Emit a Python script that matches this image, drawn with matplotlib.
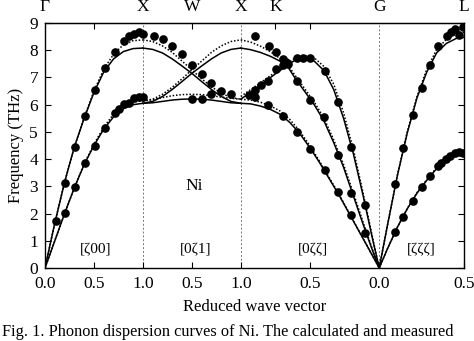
import numpy as np
import matplotlib
matplotlib.use("Agg")
import matplotlib.pyplot as plt

plt.rcParams['font.family'] = ['Liberation Serif', 'DejaVu Serif']
plt.rcParams['mathtext.fontset'] = 'stix'

# high-symmetry positions (reduced path length)
sym_labels = ["Γ", "X", "W", "X", "K", "G", "L"]
sym_pos = [0.0, 1.0, 1.5, 2.0, 2.0 + 0.25 * np.sqrt(2), 2.0 + np.sqrt(2), 2.0 + np.sqrt(2) + np.sqrt(3) / 2]
tick_pos = [0.0, 0.5, 1.0, 1.5, 2.0, 2.0 + 0.5 * np.sqrt(2), 2.0 + np.sqrt(2), 2.0 + np.sqrt(2) + np.sqrt(3) / 2]
tick_labels = ["0.0", "0.5", "1.0", "0.5", "1.0", "0.5", "0.0", "0.5"]
top_tick_pos = [0.5, 1.5, 2.0 + 0.25 * np.sqrt(2), 2.0 + 0.5 * np.sqrt(2)]
vline_pos = [1.0, 2.0, 2.0 + np.sqrt(2)]

# ---- calculated curves (solid / dotted) ----
# Gamma - X
gx_x = [0, .1, .2, .3, .4, .5, .6, .7, .8, .9, 1.0]
gx_up_solid = [0, 1.65, 3.15, 4.45, 5.5, 6.45, 7.2, 7.68, 7.95, 8.06, 8.08]
gx_up_dot = [0, 1.65, 3.15, 4.45, 5.52, 6.5, 7.3, 7.85, 8.2, 8.35, 8.38]
gx_lo_solid = [0, 1.0, 2.0, 2.95, 3.8, 4.5, 5.1, 5.55, 5.85, 6.0, 6.05]
gx_lo_dot = [0, 1.0, 2.0, 2.95, 3.82, 4.55, 5.17, 5.65, 5.95, 6.1, 6.14]
# X - W - X
xw_x = [1.0, 1.1, 1.2, 1.3, 1.4, 1.5, 1.6, 1.7, 1.8, 1.9, 2.0]
xw_desc_solid = [8.08, 8.03, 7.9, 7.68, 7.42, 7.15, 6.85, 6.56, 6.3, 6.12, 6.05]
xw_asc_solid = [6.05, 6.12, 6.3, 6.56, 6.85, 7.15, 7.42, 7.68, 7.9, 8.03, 8.08]
xw_desc_dot = [8.38, 8.32, 8.16, 7.92, 7.6, 7.28, 6.95, 6.66, 6.42, 6.26, 6.2]
xw_asc_dot = [6.14, 6.2, 6.38, 6.64, 6.95, 7.28, 7.6, 7.92, 8.16, 8.32, 8.38]
xw_lo_solid = [6.05, 6.07, 6.12, 6.17, 6.2, 6.21, 6.2, 6.17, 6.12, 6.07, 6.05]
xw_lo_dot = [6.14, 6.18, 6.26, 6.33, 6.37, 6.38, 6.37, 6.33, 6.28, 6.23, 6.2]
# X - K - G
xg_x = [2.0, 2.1, 2.2, 2.3, 2.4, 2.47, 2.55, 2.65, 2.75, 2.85, 2.95, 3.05, 3.15, 3.25, 3.35, 2.0 + np.sqrt(2)]
xg_a_solid = [8.08, 8.02, 7.92, 7.78, 7.6, 7.45, 7.0, 6.5, 6.0, 5.4, 4.6, 3.7, 2.65, 1.6, 0.6, 0]
xg_a_dot = [8.38, 8.3, 8.15, 7.95, 7.7, 7.52, 7.1, 6.6, 6.1, 5.5, 4.7, 3.8, 2.75, 1.68, 0.63, 0]
xg_b_solid = [6.2, 6.46, 6.72, 6.99, 7.25, 7.45, 7.62, 7.7, 7.6, 7.25, 6.55, 5.5, 4.2, 2.65, 1.0, 0]
xg_b_dot = [6.3, 6.55, 6.8, 7.06, 7.3, 7.5, 7.7, 7.8, 7.72, 7.4, 6.75, 5.7, 4.35, 2.75, 1.05, 0]
xg_lx = [2.0, 2.1, 2.2, 2.3, 2.4, 2.5, 2.6, 2.7, 2.8, 2.9, 3.0, 3.1, 3.2, 3.3, 2.0 + np.sqrt(2)]
xg_lo_solid = [6.05, 6.03, 5.95, 5.83, 5.65, 5.35, 4.95, 4.45, 3.9, 3.3, 2.7, 2.05, 1.4, 0.75, 0]
xg_lo_dot = [6.2, 6.17, 6.09, 5.96, 5.77, 5.46, 5.04, 4.52, 3.95, 3.34, 2.73, 2.07, 1.41, 0.75, 0]
# G - L
gl_x = [2.0 + np.sqrt(2), 3.5, 3.6, 3.7, 3.8, 3.9, 4.0, 4.1, 4.2, 2.0 + np.sqrt(2) + np.sqrt(3) / 2]
gl_up_solid = [0, 1.6, 3.4, 4.95, 6.25, 7.2, 7.9, 8.25, 8.43, 8.47]
gl_up_dot = [0, 1.6, 3.42, 5.0, 6.3, 7.3, 8.02, 8.4, 8.6, 8.65]
gl_lo_solid = [0, 0.72, 1.5, 2.17, 2.75, 3.22, 3.65, 3.98, 4.18, 4.23]
gl_lo_dot = [0, 0.72, 1.5, 2.18, 2.77, 3.25, 3.68, 4.01, 4.21, 4.26]

# ---- measured points ----
pts_x = [0.11, 0.20, 0.31, 0.41, 0.51, 0.61, 0.71, 0.81, 0.86, 0.91, 0.96, 1.0,
         0.20, 0.31, 0.41, 0.51, 0.61, 0.71, 0.76, 0.81, 0.86, 0.91, 0.96, 1.0,
         1.11, 1.21, 1.30, 1.40, 1.505, 1.60, 1.70, 1.80, 1.90,
         1.505, 1.60, 1.70,
         2.08, 2.145, 2.145, 2.21, 2.28, 2.36, 2.43, 2.46, 2.48,
         2.145, 2.29, 2.36, 2.43, 2.57, 2.64, 2.71, 2.86, 2.99, 3.13, 3.27,
         2.57, 2.71, 2.85, 2.99, 3.13, 3.27,
         2.28, 2.43, 2.57, 2.71, 2.86, 2.99, 3.13,
         3.575, 3.66, 3.762, 3.848, 3.933, 4.017, 4.103, 4.147, 4.188, 4.232, 4.273,
         3.575, 3.66, 3.756, 3.848, 3.933, 4.017, 4.05, 4.096, 4.137, 4.188, 4.232, 4.275]
pts_y = [1.74, 3.14, 4.44, 5.60, 6.54, 7.36, 7.95, 8.35, 8.53, 8.60, 8.66, 8.58,
         2.03, 2.99, 3.84, 4.50, 5.16, 5.69, 5.83, 6.01, 6.05, 6.24, 6.28, 6.29,
         8.54, 8.41, 8.17, 7.85, 7.47, 7.12, 6.80, 6.52, 6.38,
         6.22, 6.21, 6.41,
         6.37, 6.55, 6.27, 6.74, 6.87, 7.31, 7.46, 7.58, 7.50,
         8.54, 8.14, 7.95, 7.67, 7.70, 7.72, 7.70, 7.25, 6.08, 4.46, 2.32,
         6.88, 6.18, 5.53, 4.15, 2.77, 1.27,
         6.00, 5.60, 5.00, 4.36, 3.60, 2.81, 1.95,
         3.08, 4.40, 5.62, 6.63, 7.44, 8.14, 8.54, 8.66, 8.79, 8.57, 8.87,
         1.34, 1.86, 2.46, 2.99, 3.38, 3.75, 3.87, 4.00, 4.12, 4.24, 4.26, 4.24]

# annotations
dir_labels = ["[ζ00]", "[0ζ1]", "[0ζζ]", "[ζζζ]"]
dir_x = [0.52, 1.54, 2.74, 3.84]
dir_y = [0.66, 0.66, 0.66, 0.66]

fig = plt.figure(figsize=(4.74, 3.41), dpi=100)
ax = fig.add_axes([45 / 474, 1 - 268 / 341, (464 - 45) / 474, (268 - 23) / 341])

lw = 1.1
solid_sets = [(gx_x, gx_up_solid), (gx_x, gx_lo_solid),
              (xw_x, xw_desc_solid), (xw_x, xw_asc_solid), (xw_x, xw_lo_solid),
              (xg_x, xg_a_solid), (xg_x, xg_b_solid), (xg_lx, xg_lo_solid),
              (gl_x, gl_up_solid), (gl_x, gl_lo_solid)]
dot_sets = [(gx_x, gx_up_dot), (gx_x, gx_lo_dot),
            (xw_x, xw_desc_dot), (xw_x, xw_asc_dot), (xw_x, xw_lo_dot),
            (xg_x, xg_a_dot), (xg_x, xg_b_dot), (xg_lx, xg_lo_dot),
            (gl_x, gl_up_dot), (gl_x, gl_lo_dot)]
for xs, ys in solid_sets:
    ax.plot(xs, ys, color='black', lw=lw, ls='-', zorder=2)
for xs, ys in dot_sets:
    ax.plot(xs, ys, color='black', lw=lw, ls=(0, (1, 1.2)), zorder=2)

ax.plot(pts_x, pts_y, 'o', color='black', ms=5.2, zorder=3)

for v in vline_pos:
    ax.axvline(v, color='#777777', lw=0.7, ls=(0, (2, 2)), zorder=1)

ax.set_xlim(sym_pos[0], sym_pos[-1])
ax.set_ylim(0, 9)
ax.set_yticks(range(10))
ax.set_xticks(tick_pos)
ax.set_xticklabels(tick_labels)
ax.tick_params(axis='both', direction='in', length=4, width=0.8, labelsize=12.5)
ax.tick_params(axis='y', right=True, pad=5)
ax.tick_params(axis='x', pad=6)
secx = ax.secondary_xaxis('top')
secx.set_xticks(top_tick_pos)
secx.tick_params(direction='in', length=4, width=0.8, labeltop=False)

for lab, p in zip(sym_labels, sym_pos):
    ax.text(p, 1.047, lab, transform=ax.get_xaxis_transform(), ha='center', va='baseline', fontsize=12.5)

for s in ax.spines.values():
    s.set_linewidth(1.0)

for lab, x, y in zip(dir_labels, dir_x, dir_y):
    ax.text(x, y, lab, ha='center', va='center', fontsize=11)
ax.text(1.52, 3.0, "Ni", ha='center', va='center', fontsize=12.5)

ax.set_xlabel("Reduced wave vector", fontsize=12, labelpad=5)
ax.set_ylabel("Frequency (THz)", fontsize=12, labelpad=4)

fig.text(0.005, 1.0 / 341, "Fig. 1. Phonon dispersion curves of Ni. The calculated and measured",
         ha='left', va='bottom', fontsize=11.8)

fig.savefig("out.png", dpi=100)
